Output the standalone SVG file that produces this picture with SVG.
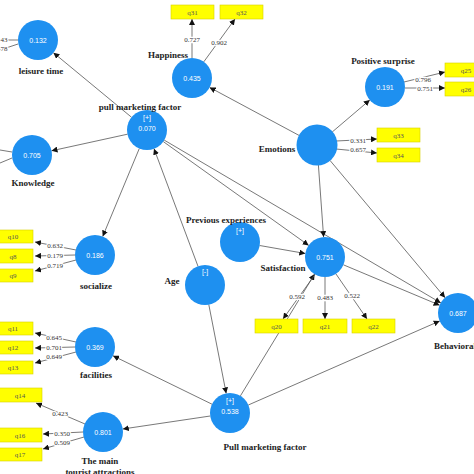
<svg xmlns="http://www.w3.org/2000/svg" width="474" height="474" viewBox="0 0 474 474">
<defs>
<marker id="ah" viewBox="0 0 10 10" refX="10" refY="5" markerWidth="6" markerHeight="6" markerUnits="userSpaceOnUse" orient="auto">
<path d="M0,0 L10,5 L0,10 Z" fill="#111"/>
</marker>
<style>
.c{fill:#1e90f0;}
.v{font-family:"Liberation Sans",Arial,sans-serif;font-size:7px;fill:#fff;text-anchor:middle;}
.lb{font-family:"Liberation Serif","Times New Roman",serif;font-size:9px;font-weight:bold;fill:#222;text-anchor:middle;}
.e{stroke:#555;stroke-width:0.8;fill:none;}
.ea{stroke:#555;stroke-width:0.8;fill:none;marker-end:url(#ah);}
.ld{font-family:"Liberation Serif","Times New Roman",serif;font-size:7px;fill:#333;text-anchor:middle;stroke:#fff;stroke-width:2.5;paint-order:stroke;}
.bx{fill:#ffff00;stroke:#d8d000;stroke-width:0.6;}
.bt{font-family:"Liberation Serif","Times New Roman",serif;font-size:7px;fill:#555;text-anchor:middle;}
</style>
</defs>
<rect width="474" height="474" fill="#fff"/>

<g id="connectors">
<line class="ea" x1="131.6" y1="117.3" x2="53.4" y2="52.7"/>
<line class="ea" x1="127.5" y1="134.2" x2="51.5" y2="150.8"/>
<line class="ea" x1="139.3" y1="148.5" x2="102.7" y2="236.5"/>
<line class="ea" x1="198" y1="266.3" x2="154" y2="148.7"/>
<line class="ea" x1="163.3" y1="141.6" x2="308.7" y2="245.4"/>
<line class="ea" x1="164.2" y1="140.1" x2="440.8" y2="302.9"/>
<line class="ea" x1="299.4" y1="135.6" x2="209.6" y2="87.4"/>
<line class="ea" x1="332.2" y1="132" x2="369.8" y2="100"/>
<line class="ea" x1="318.4" y1="165" x2="323.6" y2="237.1"/>
<line class="ea" x1="329.9" y1="160.3" x2="445.1" y2="297.7"/>
<line class="ea" x1="259.7" y1="245.5" x2="305.3" y2="253.5"/>
<line class="ea" x1="343.4" y1="264.8" x2="439.6" y2="305.2"/>
<line class="ea" x1="208.8" y1="304.6" x2="226.2" y2="393.4"/>
<line class="ea" x1="240.4" y1="395.9" x2="314.6" y2="274.1"/>
<line class="ea" x1="248.3" y1="405" x2="439.7" y2="321"/>
<line class="ea" x1="212" y1="404.2" x2="113" y2="355.8"/>
<line class="ea" x1="210.2" y1="416" x2="122.8" y2="429"/>

<!-- loadings -->
<line class="ea" x1="192" y1="58" x2="192" y2="19"/>
<line class="ea" x1="203.8" y1="61.8" x2="235" y2="19"/>
<line class="ea" x1="404" y1="82" x2="445" y2="72"/>
<line class="ea" x1="405" y1="88" x2="445" y2="88"/>
<line class="ea" x1="336" y1="141" x2="377" y2="139"/>
<line class="ea" x1="336" y1="149" x2="377" y2="153"/>
<line class="ea" x1="315" y1="274.5" x2="283" y2="319"/>
<line class="ea" x1="325" y1="277" x2="325" y2="319"/>
<line class="ea" x1="336" y1="274" x2="367" y2="319"/>
<line class="ea" x1="76" y1="250" x2="35" y2="242"/>
<line class="ea" x1="75" y1="255" x2="35" y2="256"/>
<line class="ea" x1="76" y1="260" x2="35" y2="271"/>
<line class="ea" x1="76" y1="342" x2="35" y2="333"/>
<line class="ea" x1="75" y1="347" x2="35" y2="348"/>
<line class="ea" x1="76" y1="352" x2="35" y2="363"/>
<line class="ea" x1="85" y1="424" x2="36" y2="403"/>
<line class="ea" x1="83" y1="432" x2="43" y2="434"/>
<line class="ea" x1="84" y1="437" x2="43" y2="449"/>
<line class="e" x1="18" y1="40" x2="0" y2="40"/>
<line class="e" x1="18" y1="44" x2="0" y2="50"/>
<line class="e" x1="12" y1="152" x2="0" y2="150"/>
<line class="e" x1="12" y1="158" x2="0" y2="163"/>

<text class="ld" x="192" y="42">0.727</text>
<text class="ld" x="219" y="45">0.902</text>
<text class="ld" x="423" y="82">0.796</text>
<text class="ld" x="425" y="91">0.751</text>
<text class="ld" x="358" y="143">0.331</text>
<text class="ld" x="358" y="152">0.657</text>
<text class="ld" x="297" y="299">0.592</text>
<text class="ld" x="325" y="300">0.483</text>
<text class="ld" x="352" y="298">0.522</text>
<text class="ld" x="55" y="248">0.632</text>
<text class="ld" x="55" y="258">0.179</text>
<text class="ld" x="55" y="268">0.719</text>
<text class="ld" x="54" y="340">0.645</text>
<text class="ld" x="54" y="350">0.701</text>
<text class="ld" x="54" y="359">0.649</text>
<text class="ld" x="60" y="416">0.423</text>
<text class="ld" x="62" y="436">0.350</text>
<text class="ld" x="62" y="445">0.509</text>
<text class="ld" x="4" y="42">43</text>
<text class="ld" x="4" y="51">78</text>
</g>

<g id="indicators">
<rect class="bx" x="171" y="5" width="43" height="14"/><text class="bt" x="192.5" y="14.5">q31</text>
<rect class="bx" x="220" y="5" width="43" height="14"/><text class="bt" x="241.5" y="14.5">q32</text>
<rect class="bx" x="445" y="63" width="43" height="14"/><text class="bt" x="466" y="72.5">q25</text>
<rect class="bx" x="445" y="82" width="43" height="14"/><text class="bt" x="466" y="91.5">q26</text>
<rect class="bx" x="377" y="128" width="43" height="14"/><text class="bt" x="398.5" y="137.5">q33</text>
<rect class="bx" x="377" y="148" width="43" height="14"/><text class="bt" x="398.5" y="157.5">q34</text>
<rect class="bx" x="255" y="319" width="43" height="14"/><text class="bt" x="276.5" y="328.5">q20</text>
<rect class="bx" x="303" y="319" width="44" height="14"/><text class="bt" x="325" y="328.5">q21</text>
<rect class="bx" x="352" y="319" width="43" height="14"/><text class="bt" x="373.5" y="328.5">q22</text>
<rect class="bx" x="-10" y="230" width="43" height="13"/><text class="bt" x="13" y="239">q10</text>
<rect class="bx" x="-10" y="249" width="43" height="14"/><text class="bt" x="13" y="258.5">q8</text>
<rect class="bx" x="-10" y="269" width="43" height="13"/><text class="bt" x="13" y="278">q9</text>
<rect class="bx" x="-10" y="322" width="43" height="13"/><text class="bt" x="13" y="331">q11</text>
<rect class="bx" x="-10" y="341" width="43" height="13"/><text class="bt" x="13" y="350">q12</text>
<rect class="bx" x="-10" y="361" width="43" height="13"/><text class="bt" x="13" y="370">q13</text>
<rect class="bx" x="-1" y="388" width="43" height="14"/><text class="bt" x="20" y="397.5">q14</text>
<rect class="bx" x="-1" y="428" width="43" height="14"/><text class="bt" x="20" y="437.5">q16</text>
<rect class="bx" x="-1" y="448" width="43" height="13"/><text class="bt" x="20" y="457">q17</text>
</g>

<g id="leisure"><circle class="c" cx="38" cy="40" r="20"/><text class="v" x="38" y="42.5">0.132</text><text class="lb" x="41" y="74">leisure time</text></g>
<g id="happiness"><circle class="c" cx="192" cy="78" r="20"/><text class="v" x="192" y="80.5">0.435</text><text class="lb" x="168" y="58">Happiness</text></g>
<g id="positive-surprise"><circle class="c" cx="385" cy="87" r="20"/><text class="v" x="385" y="89.5">0.191</text><text class="lb" x="383" y="64">Positive surprise</text></g>
<g id="emotions"><circle class="c" cx="317" cy="145" r="20.5"/><text class="lb" x="277" y="152">Emotions</text></g>
<g id="pull-top"><circle class="c" cx="147" cy="130" r="20"/><text class="v" x="147" y="120">[+]</text><text class="v" x="147" y="131">0.070</text><text class="lb" x="140" y="110">pull marketing factor</text></g>
<g id="knowledge"><circle class="c" cx="32" cy="155" r="20"/><text class="v" x="32" y="157.5">0.705</text><text class="lb" x="33" y="186">Knowledge</text></g>
<g id="socialize"><circle class="c" cx="95" cy="255" r="20"/><text class="v" x="95" y="257.5">0.186</text><text class="lb" x="96" y="289">socialize</text></g>
<g id="previous-experiences"><circle class="c" cx="240" cy="242" r="20"/><text class="v" x="240" y="233">[+]</text><text class="lb" x="226" y="223">Previous experiences</text></g>
<g id="satisfaction"><circle class="c" cx="325" cy="257" r="20"/><text class="v" x="325" y="259.5">0.751</text><text class="lb" x="283" y="271">Satisfaction</text></g>
<g id="age"><circle class="c" cx="205" cy="285" r="20"/><text class="v" x="205" y="274">[-]</text><text class="lb" x="172" y="284">Age</text></g>
<g id="behavioral"><circle class="c" cx="458" cy="313" r="20"/><text class="v" x="458" y="315.5">0.687</text><text class="lb" x="455" y="349">Behavioral</text></g>
<g id="facilities"><circle class="c" cx="95" cy="347" r="20"/><text class="v" x="95" y="349.5">0.369</text><text class="lb" x="96" y="378">facilities</text></g>
<g id="main-attractions"><circle class="c" cx="103" cy="432" r="20"/><text class="v" x="103" y="434.5">0.801</text><text class="lb" x="100" y="464">The main</text><text class="lb" x="100" y="475">tourist attractions</text></g>
<g id="pull-bottom"><circle class="c" cx="230" cy="413" r="20"/><text class="v" x="230" y="403">[+]</text><text class="v" x="230" y="414">0.538</text><text class="lb" x="265" y="450">Pull marketing factor</text></g>
</svg>
